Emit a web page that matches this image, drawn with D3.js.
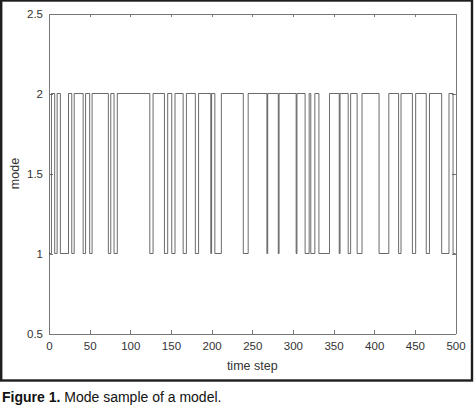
<!DOCTYPE html>
<html>
<head>
<meta charset="utf-8">
<script src="https://cdn.jsdelivr.net/npm/d3@7"></script>
<style>
  html, body { margin: 0; padding: 0; background: #fff; overflow: hidden; }
  svg { display: block; font-family: "Liberation Sans", Arial, sans-serif; }
</style>
</head>
<body>
<script>
// time steps where the mode switches, and the mode held from that step on
const stepTimes = [0, 3, 7, 10, 14, 24, 28, 31, 42, 45, 50, 53, 73, 76, 80, 84,
  124, 128, 142, 146, 151, 155, 165, 169, 180, 184, 199, 200, 204, 212,
  239, 245, 268, 269, 282, 283, 304, 305, 315, 320, 322, 327, 332, 345,
  357, 358, 368, 371, 379, 385, 406, 418, 430, 433, 447, 451, 464, 468,
  483, 492, 497, 500]
const stepModes = [1, 2, 1, 2, 1, 2, 1, 2, 1, 2, 1, 2, 1, 2, 1, 2,
  1, 2, 1, 2, 1, 2, 1, 2, 1, 2, 1, 2, 1, 2,
  1, 2, 1, 2, 1, 2, 1, 2, 1, 2, 1, 2, 1, 2,
  1, 2, 1, 2, 1, 2, 1, 2, 1, 2, 1, 2, 1, 2,
  1, 2, 1, 1]
const xTicks = [0, 50, 100, 150, 200, 250, 300, 350, 400, 450, 500]
const yTicks = [0.5, 1, 1.5, 2, 2.5]

let size = { width: 474, height: 406 }
let plot = { left: 49, right: 455.5, top: 13.5, bottom: 333.5 }

let data = stepTimes.map((t, i) => ({ t: t, mode: stepModes[i] }))

let svg = d3.select('body')
  .append('svg')
  .attr('width', size.width)
  .attr('height', size.height)

// figure frame
svg.append('rect')
  .attr('x', 1.2)
  .attr('y', 0.5)
  .attr('width', 470.8)
  .attr('height', 380)
  .attr('fill', 'none')
  .attr('stroke', '#1e1e1e')
  .attr('stroke-width', 2.4)

let xScale = d3.scaleLinear()
  .domain([0, 500])
  .range([plot.left, plot.right])

let yScale = d3.scaleLinear()
  .domain([0.5, 2.5])
  .range([plot.bottom, plot.top])

function styleAxis(g) {
  g.selectAll('path').attr('stroke', '#777').attr('shape-rendering', 'crispEdges')
  g.selectAll('line').attr('stroke', '#777').attr('shape-rendering', 'crispEdges')
  g.selectAll('text')
    .attr('fill', '#333')
    .style('font-size', '11.5px')
    .style('font-family', '"Liberation Sans", Arial, sans-serif')
}

svg.append('g')
  .attr('transform', 'translate(0,' + plot.bottom + ')')
  .call(d3.axisBottom(xScale).tickValues(xTicks).tickSizeInner(-3.5).tickSizeOuter(0).tickPadding(8))
  .call(styleAxis)

svg.append('g')
  .attr('transform', 'translate(0,' + plot.top + ')')
  .call(d3.axisTop(xScale).tickValues(xTicks).tickSizeInner(-3.5).tickSizeOuter(0).tickFormat(''))
  .call(styleAxis)

svg.append('g')
  .attr('transform', 'translate(' + plot.left + ',0)')
  .call(d3.axisLeft(yScale).tickValues(yTicks).tickFormat(d3.format('~g'))
    .tickSizeInner(-3.5).tickSizeOuter(0).tickPadding(6))
  .call(styleAxis)

svg.append('g')
  .attr('transform', 'translate(' + plot.right + ',0)')
  .call(d3.axisRight(yScale).tickValues(yTicks).tickSizeInner(-3.5).tickSizeOuter(0).tickFormat(''))
  .call(styleAxis)

// the mode trace
let line = d3.line()
  .x(d => xScale(d.t))
  .y(d => yScale(d.mode))
  .curve(d3.curveStepAfter)

svg.append('path')
  .datum(data)
  .attr('d', line)
  .attr('fill', 'none')
  .attr('stroke', '#3a3a3a')
  .attr('stroke-width', 0.75)

svg.append('text')
  .attr('x', (plot.left + plot.right) / 2)
  .attr('y', 370)
  .attr('text-anchor', 'middle')
  .attr('fill', '#333')
  .style('font-size', '12.5px')
  .text('time step')

svg.append('text')
  .attr('transform', 'translate(19,' + ((plot.top + plot.bottom) / 2) + ')rotate(-90)')
  .attr('text-anchor', 'middle')
  .attr('fill', '#333')
  .style('font-size', '12.5px')
  .text('mode')

// caption under the frame
let caption = svg.append('text')
  .attr('x', 2)
  .attr('y', 402)
  .attr('fill', '#111')
  .style('font-size', '14px')
caption.append('tspan').style('font-weight', 'bold').text('Figure 1.')
caption.append('tspan').text(' Mode sample of a model.')
</script>
</body>
</html>
